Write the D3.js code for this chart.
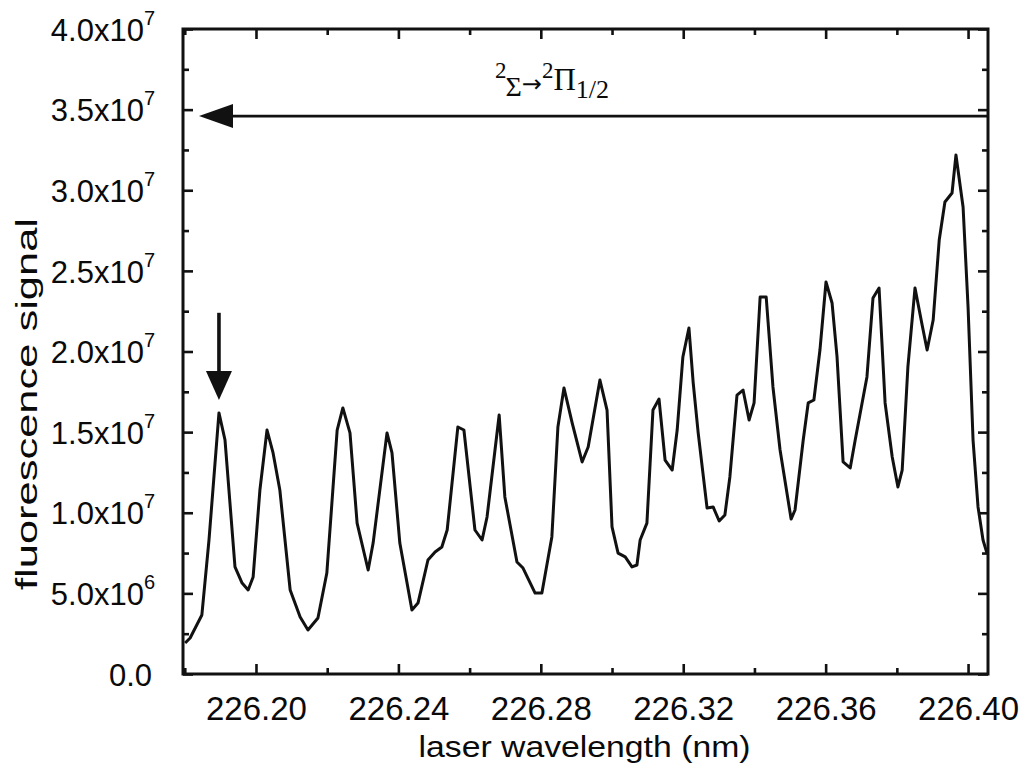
<!DOCTYPE html>
<html>
<head>
<meta charset="utf-8">
<script src="https://cdn.jsdelivr.net/npm/d3@7"></script>
<style>
  body { margin: 0; background: #fff; }
  svg text { fill: #0a0a0a; }
</style>
</head>
<body>
<svg width="1025" height="781"></svg>
<script>
// wavelength (nm), left to right
var wavelength = [226.1801, 226.1815, 226.1848, 226.1868, 226.1896, 226.1913, 226.1941, 226.1961, 226.1978, 226.1992,
  226.2011, 226.2031, 226.2048, 226.2067, 226.2096, 226.2124, 226.2146, 226.2174, 226.2199, 226.2228,
  226.2244, 226.2264, 226.2284, 226.2315, 226.2329, 226.2368, 226.2382, 226.2404, 226.2438, 226.2455,
  226.2483, 226.2503, 226.2522, 226.2537, 226.2567, 226.2584, 226.2615, 226.2635, 226.2649, 226.2683,
  226.2699, 226.2733, 226.2750, 226.2784, 226.2803, 226.2831, 226.2848, 226.2865, 226.2888, 226.2916,
  226.2933, 226.2966, 226.2986, 226.3000, 226.3017, 226.3037, 226.3056, 226.3070, 226.3079, 226.3098,
  226.3115, 226.3132, 226.3149, 226.3169, 226.3183, 226.3199, 226.3216, 226.3228, 226.3242, 226.3267,
  226.3284, 226.3301, 226.3317, 226.3331, 226.3351, 226.3368, 226.3385, 226.3399, 226.3416, 226.3433,
  226.3452, 226.3472, 226.3503, 226.3514, 226.3537, 226.3551, 226.3567, 226.3584, 226.3601, 226.3618,
  226.3632, 226.3649, 226.3669, 226.3683, 226.3716, 226.3733, 226.3750, 226.3767, 226.3787, 226.3803,
  226.3815, 226.3831, 226.3851, 226.3871, 226.3885, 226.3902, 226.3919, 226.3935, 226.3955, 226.3966,
  226.3986, 226.4000, 226.4014, 226.4028, 226.4042, 226.4053];

// fluorescence signal (counts)
var signal = [1.92e6, 2.23e6, 3.66e6, 8.31e6, 16.19e6, 14.51e6, 6.64e6, 5.64e6, 5.21e6, 6.02e6,
  11.41e6, 15.13e6, 13.71e6, 11.41e6, 5.21e6, 3.53e6, 2.73e6, 3.47e6, 6.26e6, 15.13e6,
  16.50e6, 14.95e6, 9.36e6, 6.45e6, 8.12e6, 14.95e6, 13.71e6, 8.12e6, 3.97e6, 4.40e6,
  7.07e6, 7.57e6, 7.88e6, 8.93e6, 15.32e6, 15.13e6, 8.93e6, 8.31e6, 9.74e6, 16.06e6,
  10.98e6, 6.95e6, 6.57e6, 5.02e6, 5.02e6, 8.50e6, 15.32e6, 17.74e6, 15.57e6, 13.15e6,
  14.08e6, 18.23e6, 16.37e6, 9.12e6, 7.50e6, 7.26e6, 6.64e6, 6.76e6, 8.31e6, 9.36e6,
  16.37e6, 17.05e6, 13.27e6, 12.65e6, 15.13e6, 19.66e6, 21.46e6, 18.05e6, 14.95e6, 10.29e6,
  10.36e6, 9.49e6, 9.86e6, 12.22e6, 17.30e6, 17.61e6, 15.75e6, 16.81e6, 23.38e6, 23.38e6,
  17.80e6, 13.89e6, 9.61e6, 10.17e6, 14.51e6, 16.81e6, 16.99e6, 20.09e6, 24.31e6, 23.01e6,
  19.66e6, 13.15e6, 12.78e6, 14.51e6, 18.42e6, 23.32e6, 23.94e6, 16.81e6, 13.46e6, 11.60e6,
  12.65e6, 19.04e6, 23.94e6, 21.64e6, 20.09e6, 21.95e6, 26.91e6, 29.27e6, 29.83e6, 32.19e6,
  28.96e6, 22.76e6, 14.51e6, 10.36e6, 8.31e6, 7.50e6];

var xTicks = [226.20, 226.24, 226.28, 226.32, 226.36, 226.40];
var xTickLabels = ["226.20", "226.24", "226.28", "226.32", "226.36", "226.40"];
var yTicks = [0, 5e6, 1e7, 1.5e7, 2e7, 2.5e7, 3e7, 3.5e7, 4e7];
var yTickLabels = [["0.0", ""], ["5.0x10", "6"], ["1.0x10", "7"], ["1.5x10", "7"], ["2.0x10", "7"],
  ["2.5x10", "7"], ["3.0x10", "7"], ["3.5x10", "7"], ["4.0x10", "7"]];

// annotation positions in data units
var bandArrow = {y: 3.46e7, tip: 226.1840};
var peakArrow = {x: 226.1896, top: 2.24e7, tip: 1.70e7};

var svg = d3.select("svg"),
    margin = {top: 29, right: 37, bottom: 107, left: 183},
    width = +svg.attr("width") - margin.left - margin.right,
    height = +svg.attr("height") - margin.top - margin.bottom,
    g = svg.append("g").attr("transform", "translate(" + margin.left + "," + margin.top + ")");

var x = d3.scaleLinear().domain([226.1795, 226.4056]).range([0, width]);
var y = d3.scaleLinear().domain([0, 4e7]).range([height, 0]);

var xMinor = d3.range(226.18, 226.41, 0.02).filter(function(d) { return Math.round(d * 100) % 4 != 0; });
var yMinor = d3.range(2.5e6, 4e7, 5e6);

var sans = "'Liberation Sans', Arial, sans-serif";

function tickStyle(sel) {
  sel.select(".domain").remove();
  sel.selectAll("line").attr("stroke", "#111").attr("stroke-width", 2.6);
}

// bottom axis, ticks pointing in
g.append("g")
    .attr("transform", "translate(0," + height + ")")
    .call(d3.axisBottom(x).tickValues(xTicks).tickSize(-10).tickPadding(23)
      .tickFormat(function(d, i) { return xTickLabels[i]; }))
    .call(tickStyle)
    .selectAll("text")
      .attr("font-family", sans)
      .attr("font-size", 33)
      .attr("dy", "0.71em");
g.append("g")
    .attr("transform", "translate(0," + height + ")")
    .call(d3.axisBottom(x).tickValues(xMinor).tickSize(-6).tickFormat(""))
    .call(tickStyle);

// top mirror
g.append("g")
    .call(d3.axisTop(x).tickValues(xTicks).tickSize(-10).tickFormat(""))
    .call(tickStyle);
g.append("g")
    .call(d3.axisTop(x).tickValues(xMinor).tickSize(-6).tickFormat(""))
    .call(tickStyle);

// left axis
var yAxisG = g.append("g")
    .call(d3.axisLeft(y).tickValues(yTicks).tickSize(-10).tickPadding(27).tickFormat(""))
    .call(tickStyle);
yAxisG.selectAll(".tick text").each(function(d, i) {
  var t = d3.select(this);
  var lab = yTickLabels[i];
  t.attr("font-family", sans).attr("font-size", 31).attr("dy", "0.36em");
  t.append("tspan").text(lab[0]);
  if (lab[1]) t.append("tspan").attr("font-size", 20).attr("dy", "-0.8em").text(lab[1]);
  t.attr("dx", lab[1] ? "-1" : "-4");
});
g.append("g")
    .call(d3.axisLeft(y).tickValues(yMinor).tickSize(-6).tickFormat(""))
    .call(tickStyle);

// right mirror
g.append("g")
    .attr("transform", "translate(" + width + ",0)")
    .call(d3.axisRight(y).tickValues(yTicks).tickSize(-10).tickFormat(""))
    .call(tickStyle);
g.append("g")
    .attr("transform", "translate(" + width + ",0)")
    .call(d3.axisRight(y).tickValues(yMinor).tickSize(-6).tickFormat(""))
    .call(tickStyle);

// frame
g.append("rect")
    .attr("width", width)
    .attr("height", height)
    .attr("fill", "none")
    .attr("stroke", "#111")
    .attr("stroke-width", 3);

// the trace
var line = d3.line()
    .x(function(d, i) { return x(wavelength[i]); })
    .y(function(d) { return y(d); });

g.append("path")
    .datum(signal)
    .attr("fill", "none")
    .attr("stroke", "#111")
    .attr("stroke-width", 3)
    .attr("stroke-linejoin", "round")
    .attr("d", line);

// horizontal band arrow
var hy = y(bandArrow.y), hx = x(bandArrow.tip);
g.append("line")
    .attr("x1", hx + 20).attr("x2", width)
    .attr("y1", hy).attr("y2", hy)
    .attr("stroke", "#111").attr("stroke-width", 2.8);
g.append("path")
    .attr("d", "M" + hx + "," + hy + "L" + (hx + 34) + "," + (hy - 12) + "L" + (hx + 34) + "," + (hy + 12) + "Z")
    .attr("fill", "#111");

// peak marker arrow
var vx = x(peakArrow.x), vTop = y(peakArrow.top), vTip = y(peakArrow.tip);
g.append("line")
    .attr("x1", vx).attr("x2", vx)
    .attr("y1", vTop).attr("y2", vTip - 20)
    .attr("stroke", "#111").attr("stroke-width", 3.6);
g.append("path")
    .attr("d", "M" + vx + "," + vTip + "L" + (vx - 13) + "," + (vTip - 29) + "L" + (vx + 13) + "," + (vTip - 29) + "Z")
    .attr("fill", "#111");

// transition label
var lab = svg.append("text")
    .attr("x", 495)
    .attr("y", 96)
    .attr("font-family", "'Liberation Serif', 'Times New Roman', serif")
    .attr("font-size", 28);
lab.append("tspan").attr("font-size", 23).attr("dy", -18).text("2");
lab.append("tspan").attr("dy", 18).attr("dx", -1).text("\u03A3");
lab.append("tspan").attr("font-family", "'DejaVu Sans', sans-serif").attr("font-size", 24).attr("dy", -4).text("\u2192");
lab.append("tspan").attr("font-size", 23).attr("dy", -14).text("2");
lab.append("tspan").attr("font-size", 31).attr("dy", 12).text("\u03A0");
lab.append("tspan").attr("font-size", 26).attr("dy", 8).text("1/2");

// axis titles
svg.append("text")
    .attr("x", margin.left + width / 2 - 1)
    .attr("y", 757)
    .attr("text-anchor", "middle")
    .attr("font-family", sans)
    .attr("font-size", 30)
    .attr("textLength", 332)
    .attr("lengthAdjust", "spacingAndGlyphs")
    .text("laser wavelength (nm)");

svg.append("text")
    .attr("transform", "translate(37," + 404 + ") rotate(-90)")
    .attr("text-anchor", "middle")
    .attr("font-family", sans)
    .attr("font-size", 30)
    .attr("textLength", 372)
    .attr("lengthAdjust", "spacingAndGlyphs")
    .text("fluorescence signal");
</script>
</body>
</html>
